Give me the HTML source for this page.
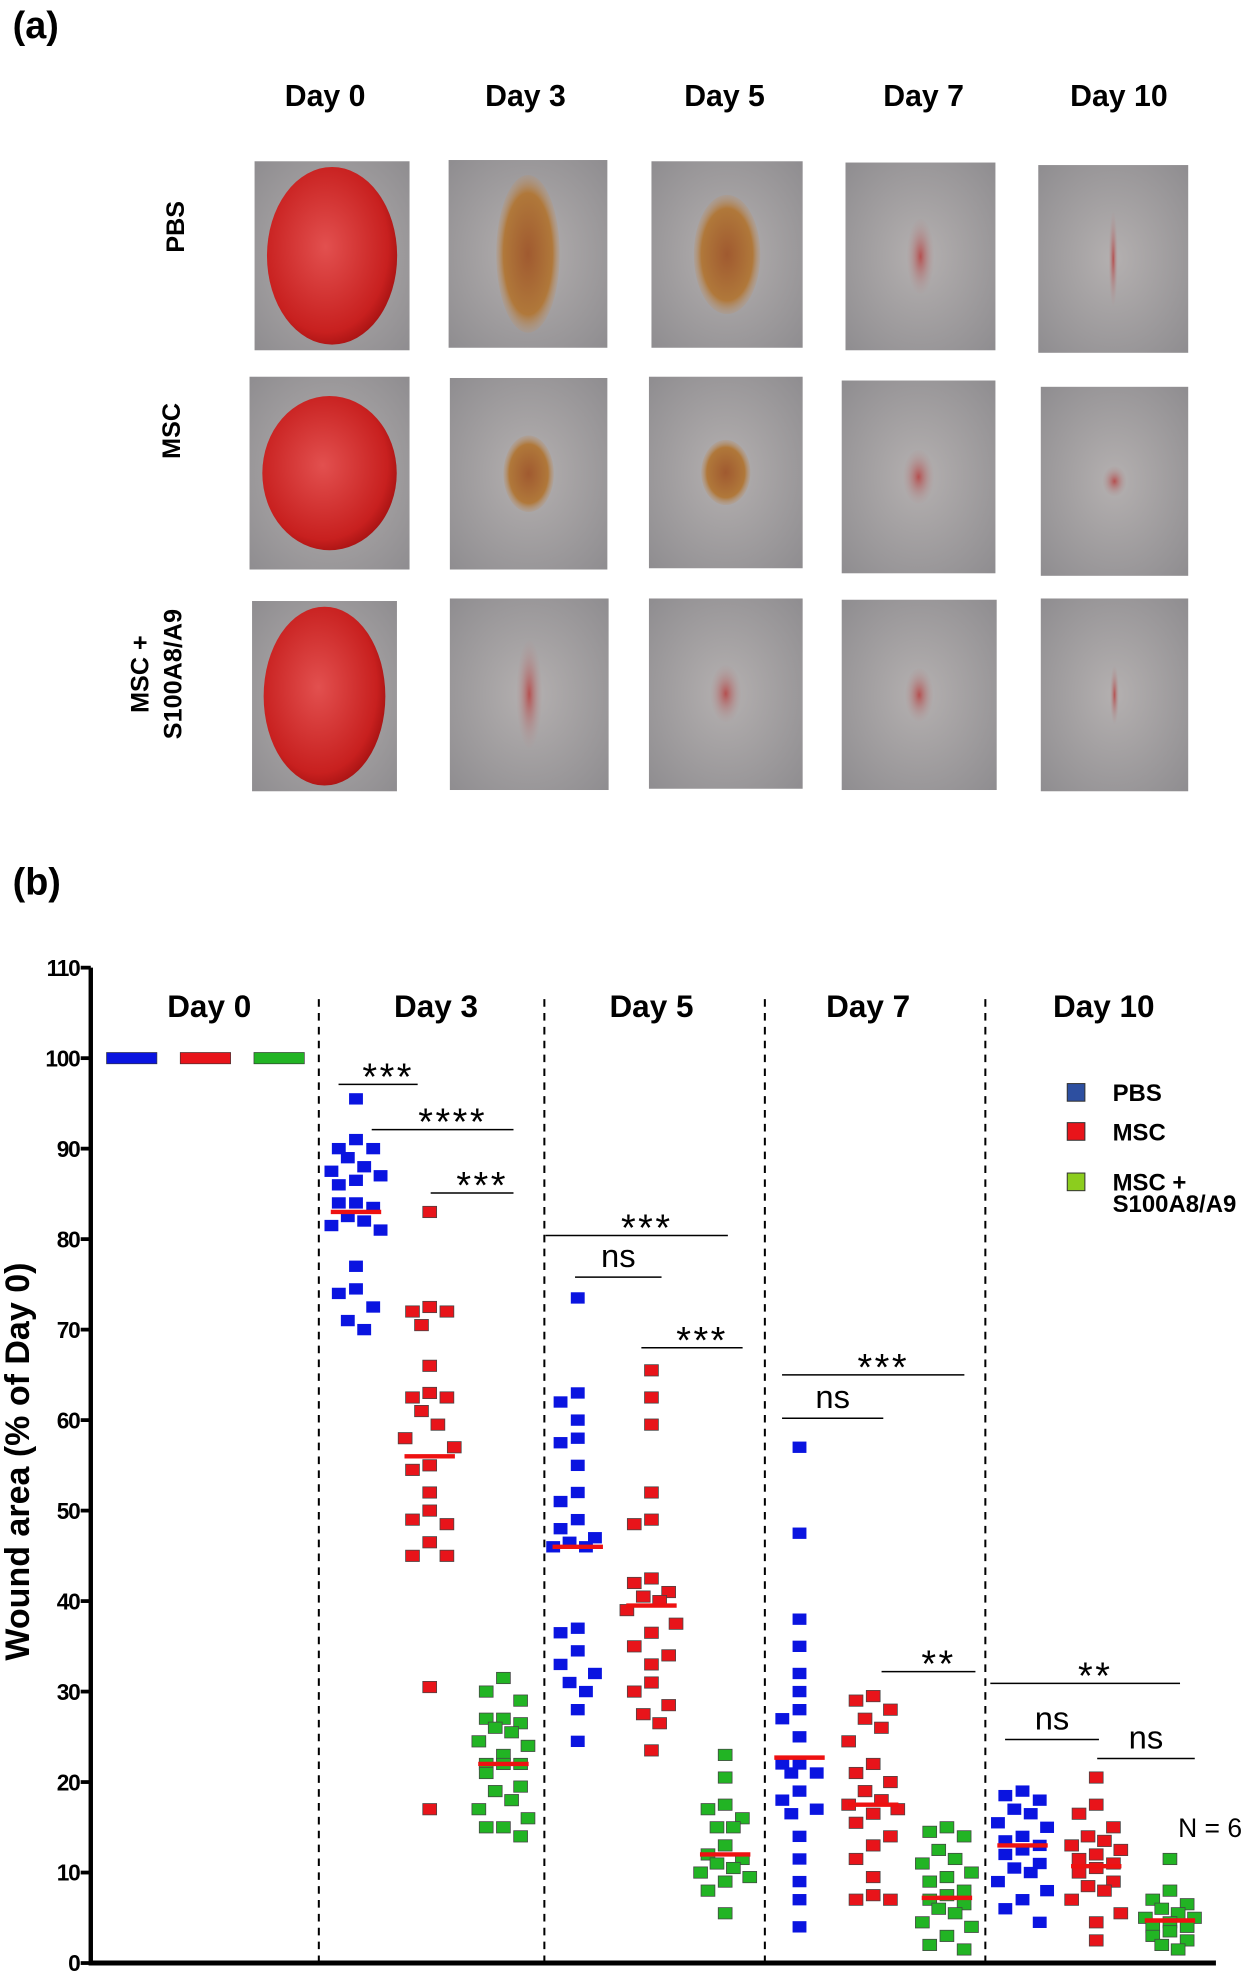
<!DOCTYPE html>
<html><head><meta charset="utf-8"><style>
html,body{margin:0;padding:0;background:#fff;}
svg{display:block;font-family:"Liberation Sans",Arial,sans-serif;}
</style></head><body>
<svg id="fig" width="1250" height="1974" viewBox="0 0 992 1566.7" xmlns="http://www.w3.org/2000/svg">
<defs>
<radialGradient id="fur" cx="50%" cy="50%" r="70%"><stop offset="0" stop-color="#b4b0b0"/><stop offset="1" stop-color="#8f8d90"/></radialGradient>
<radialGradient id="wound0" cx="45%" cy="45%" r="60%"><stop offset="0" stop-color="#e2504f"/><stop offset="0.8" stop-color="#c8201f"/><stop offset="1" stop-color="#a01010"/></radialGradient>
<radialGradient id="scab" cx="50%" cy="50%" r="55%"><stop offset="0" stop-color="#a05a30"/><stop offset="0.7" stop-color="#b0783a"/><stop offset="1" stop-color="#b8a090" stop-opacity="0"/></radialGradient>
<radialGradient id="heal" cx="50%" cy="50%" r="55%"><stop offset="0" stop-color="#b55050"/><stop offset="1" stop-color="#b0a0a0" stop-opacity="0"/></radialGradient>
</defs>
<g id="panelA">
<text x="10" y="30" font-size="30" font-weight="bold">(a)</text>
<g font-size="24" font-weight="bold" text-anchor="middle">
<text x="258" y="84">Day 0</text><text x="417" y="84">Day 3</text><text x="575" y="84">Day 5</text><text x="733" y="84">Day 7</text><text x="888" y="84">Day 10</text>
</g>
<g font-size="20" font-weight="bold" text-anchor="middle">
<text transform="translate(146,180) rotate(-90)">PBS</text>
<text transform="translate(143,342) rotate(-90)">MSC</text>
<text transform="translate(118,535) rotate(-90)">MSC +</text>
<text transform="translate(144,535) rotate(-90)">S100A8/A9</text>
</g>
<g id="photos"></g>
</g>
<text x="10" y="710" font-size="30" font-weight="bold">(b)</text>
<g id="chart"></g>
</svg>
<script>
const NS="http://www.w3.org/2000/svg";
function mk(tag,attrs,parent){const e=document.createElementNS(NS,tag);for(const k in attrs)e.setAttribute(k,attrs[k]);parent.appendChild(e);return e;}
// ---- photos (panel a) ----
const photoBoxes=[[202,128,325,278],[356,127,482,276],[517,128,637,276],[671,129,790,278],[824,131,943,280],
[198,299,325,452],[357,300,482,452],[515,299,637,451],[668,302,790,455],[826,307,943,457],
[200,477,315,628],[357,475,483,627],[515,475,637,626],[668,476,791,627],[826,475,943,628]];
const woundSize=[[0.42,0.47],[0.2,0.42],[0.22,0.32],[0.09,0.2],[0.03,0.25],[0.42,0.4],[0.16,0.2],[0.16,0.17],[0.1,0.14],[0.08,0.08],[0.42,0.47],[0.08,0.28],[0.1,0.15],[0.09,0.14],[0.03,0.15]];
const ph=document.getElementById('photos');
photoBoxes.forEach((b,i)=>{
 const g=mk('g',{},ph);
 
 
 mk('rect',{x:b[0],y:b[1],width:b[2]-b[0],height:b[3]-b[1],fill:'url(#fur)'},g);
 const cx=(b[0]+b[2])/2,cy=(b[1]+b[3])/2,w=b[2]-b[0],h=b[3]-b[1];
 const col=i%5; const fill=col==0?'url(#wound0)':(col<3&&i<10?'url(#scab)':'url(#heal)');
 mk('ellipse',{cx:cx,cy:cy,rx:w*woundSize[i][0],ry:h*woundSize[i][1],fill:fill},g);
});
// ---- chart data ----
const yTicks=[0,10,20,30,40,50,60,70,80,90,100,110];
const days=['Day 0','Day 3','Day 5','Day 7','Day 10'];
const groups=['PBS','MSC','MSC + S100A8/A9'];
const day3PBS=[95.5,91,90,90,89,88,87.5,87,86.5,86,84,84,83.5,82.5,82,81.5,81,77,74.5,74,72.5,71,70];
const day3MSC=[83,72.5,72,72,70.5,66,63,62.5,62.5,61,59.5,58,57,55,54.5,52,50,49,48.5,46.5,45,45,30.5,17];
const day3S100=[31.5,30,29,27,27,26.5,26,25.5,24.5,24,23,22,22,22,21,19.5,19,18,17,16,15,15,14];
const day5PBS=[73.5,63,62,60,58,57.5,55,52,51,49,48,47,46.5,46,46,37,36.5,34.5,33,32,31,30,28,24.5];
const day5MSC=[65.5,62.5,59.5,52,49,48.5,42.5,42,41,40.5,40,39,37.5,36.5,35,34,33,31,30,28.5,27.5,26.5,23.5];
const day5S100=[23,20.5,17.5,17,16,15,15,13,12,11.5,11,10.5,10,9.5,9,8,5.5];
const day7PBS=[57,47.5,38,35,32,30,28,27,25,22,22,21,21,19,18,17,16.5,14,11.5,9,7,4];
const day7MSC=[29.5,29,28,27,26,24.5,22,21,20,19,18,17.5,17,16.5,15.5,14,13,11.5,9.5,7.5,7,7];
const day7S100=[15,14.5,14,12.5,11.5,11,10,9.5,9,8,7.5,7,6.5,6,5.5,4.5,4,3,2,1.5];
const day10PBS=[19,18.5,18,17,16.5,15.5,15,14,13.5,13,12.5,12,11,10.5,10,9,8,7,6,4.5];
const day10MSC=[20.5,17.5,16.5,15,14,13.5,13,12.5,12,11.5,11,10.5,10,9,8.5,8,7,5.5,4.5,2.5];
const day10S100=[11.5,8,7,6.5,6,5.5,5,5,4.5,4,4,3.5,3,2.5,2,1.5];
const medians=[[100,100,100],[83,56,22],[46,39.5,12],[22.7,17.5,7.2],[13,10.7,4.7]];
const series=[[day3PBS,day3MSC,day3S100],[day5PBS,day5MSC,day5S100],[day7PBS,day7MSC,day7S100],[day10PBS,day10MSC,day10S100]];
// significance: labels, bar heights (data units), spans [day, fromGroup, toGroup]
const sigLabels=['***','****','***','***','ns','***','***','ns','**','**','ns','ns'];
const sigValues=[97.1,92.1,85.1,80.4,75.8,68,65,60.2,32.2,30.9,24.7,22.6];
const sigSpans=[[1,-0.1,0.7],[1,0.35,2],[1,1.15,2],[2,-0.3,1.9],[2,0.1,1],[2,1,2.1],[3,-0.1,2.1],[3,-0.1,1],[3,1.25,2.25],[4,-0.3,2],[4,-0.1,0.9],[4,1.15,2.2]];
const colors=['#0a14e0','#e8141a','#22b424'];
// ---- axes ----
const X0=72,X1=965,Y0=1558,Y110=768;
const y=v=>Y0-(Y0-Y110)*v/110;
const dayCenter=[163,341,517,693,870];
const gx=(d,g)=>dayCenter[d]+(g-1)*58.5;
const C=document.getElementById('chart');
const ax=mk('line',{x1:X0,y1:Y0,x2:X1,y2:Y0,stroke:'#000','stroke-width':4},C);

const ay=mk('line',{x1:X0,y1:Y0+2,x2:X0,y2:Y110,stroke:'#000','stroke-width':3.5},C);

yTicks.forEach(t=>{
 mk('line',{x1:X0-8,y1:y(t),x2:X0,y2:y(t),stroke:'#000','stroke-width':3},C);
 const tx=mk('text',{x:X0-9,y:y(t)+6.5,'font-size':18,'font-weight':'bold','text-anchor':'end','letter-spacing':-1},C);
 tx.textContent=t;
 
});
const yt=mk('text',{transform:'translate(23,1160) rotate(-90)','font-size':27,'font-weight':'bold','text-anchor':'middle'},C);
yt.textContent='Wound area (% of Day 0)';

[253,432,607,782].forEach(xx=>{
 const l=mk('line',{x1:xx,y1:y(110)+25,x2:xx,y2:Y0+4,stroke:'#000','stroke-width':1.6,'stroke-dasharray':'6,5'},C);
 
});
days.forEach((d,i)=>{
 const t=mk('text',{x:[166,346,517,689,876][i],y:807,'font-size':25,'font-weight':'bold','text-anchor':'middle'},C);
 t.textContent=d;
 
});
// day 0 bars
for(let g=0;g<3;g++){
 const r=mk('rect',{x:gx(0,g)-20,y:y(100)-4.5,width:40,height:9,fill:colors[g],stroke:'#333','stroke-width':0.5},C);
 
}
// points
const jit=[0,-21,21,-10,10,-30,30,0,-21,21];
series.forEach((grp,di)=>{
 grp.forEach((vals,g)=>{
  let prev=null,k=0;
  vals.forEach((v,i)=>{
   if(prev!==null&&Math.abs(prev-v)<1.6)k++;else k=0;prev=v;
   const cx=gx(di+1,g)+jit[k%jit.length]*0.65;
   const r=mk('rect',{x:cx-5.5,y:y(v)-4.5,width:11,height:9,fill:colors[g],stroke:g==0?'none':'#444','stroke-width':0.6},C);
   
  });
 });
});
medians.forEach((m,di)=>{
 if(di==0)return;
 m.forEach((v,g)=>{
  const l=mk('line',{x1:gx(di,g)-20,y1:y(v),x2:gx(di,g)+20,y2:y(v),stroke:'#ee1111','stroke-width':3.5},C);
  
 });
});
sigSpans.forEach((s,i)=>{
 const xa=gx(s[0],0)-8+(s[1])*58.5, xb=gx(s[0],0)+8+(s[2])*58.5;
 const yy=y(sigValues[i]);
 const l=mk('line',{x1:xa,y1:yy,x2:xb,y2:yy,stroke:'#000','stroke-width':1.2},C);
 
 const isNs=sigLabels[i]=='ns';
 const t=mk('text',{x:(xa+xb)/2+(isNs?0:8),y:yy-(isNs?8:-4),'font-size':isNs?26:30,'text-anchor':'middle','letter-spacing':isNs?0:2},C);
 t.textContent=sigLabels[i];
 
});
// legend
const lg=mk('g',{},C);

[[867,'PBS'],[898,'MSC'],[938,'MSC +']].forEach((e,i)=>{
 const r=mk('rect',{x:847,y:e[0]-7,width:14,height:14,fill:['#2d4fa0','#e8141a','#8ccd1e'][i],stroke:'#333','stroke-width':0.8},lg);
 
 const t=mk('text',{x:883,y:e[0]+7,'font-size':19,'font-weight':'bold'},lg);
 t.textContent=e[1];
 
});
const t2=mk('text',{x:883,y:962,'font-size':19,'font-weight':'bold'},lg);
t2.textContent='S100A8/A9';

const nt=mk('text',{x:935,y:1458,'font-size':21},C);
nt.textContent='N = 6';

</script>
</body></html>
